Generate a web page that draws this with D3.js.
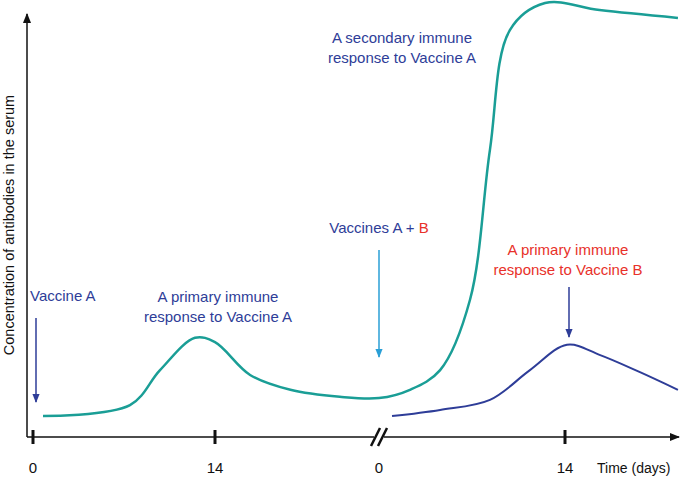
<!DOCTYPE html><html><head><meta charset="utf-8">
<script src="https://cdn.jsdelivr.net/npm/d3@7"></script>
<style>body{margin:0;background:#fff}text{font-family:"Liberation Sans",Arial,sans-serif}</style>
</head><body><svg id="c" width="685" height="480"></svg>
<script>
// segment 1 = first vaccination, segment 2 = after second vaccination
const tickLabels = ["0","14","0","14"];
const tealSeg = [1,1,1,1,1,1,1,1,2,2,2,2,2,2,2,2,2];
const tealDay = [0.77,7.46,9.77,12.46,14,16.7,19.8,23.6,0,2.33,4.6,6.85,8.35,9.85,12.5,16.6,22.5];
const tealVal = [4.8,7.3,15.3,22.7,21.7,14.2,10.8,9.2,8.9,10.8,15.3,31.4,65.7,93.1,99.3,97.7,95.9];
const blueDay = [0.98,4.6,8.35,11.36,14.15,16.6,19.6,22.5];
const blueVal = [4.8,6.2,8.5,15.3,21.1,18.8,14.9,10.8];

const svg = d3.select("#c");
const x1 = d3.scaleLinear().domain([0,14]).range([33,215]);
const x2 = d3.scaleLinear().domain([0,14]).range([379,565]);
const y = d3.scaleLinear().domain([0,100]).range([437,0]);
const BLUE="#2e3d98", TEAL="#1a9e96", RED="#e8312a", LB="#2a9fd6";

svg.append("defs").html(`<marker id="ah" viewBox="0 0 10 10" refX="9" refY="5" markerWidth="7" markerHeight="7" orient="auto"><path d="M0,1L10,5L0,9z" fill="#111"/></marker>
<marker id="ab" viewBox="0 0 10 10" refX="9" refY="5" markerWidth="6" markerHeight="6" orient="auto"><path d="M0,1L10,5L0,9z" fill="${BLUE}"/></marker>
<marker id="al" viewBox="0 0 10 10" refX="9" refY="5" markerWidth="6" markerHeight="6" orient="auto"><path d="M0,1L10,5L0,9z" fill="${LB}"/></marker>`);

svg.append("line").attr("x1",27).attr("y1",437).attr("x2",27).attr("y2",14).attr("stroke","#111").attr("stroke-width",1.5).attr("marker-end","url(#ah)");
svg.append("line").attr("x1",27).attr("y1",437).attr("x2",679).attr("y2",437).attr("stroke","#111").attr("stroke-width",1.5).attr("marker-end","url(#ah)");
const tickX=[x1(0),x1(14),x2(0),x2(14)];
tickX.forEach((tx,i)=>{
  if(i!==2) svg.append("line").attr("x1",tx).attr("x2",tx).attr("y1",430).attr("y2",444).attr("stroke","#111").attr("stroke-width",3);
  svg.append("text").attr("x",tx).attr("y",473).attr("text-anchor","middle").attr("font-size",15).attr("fill","#111").text(tickLabels[i]);
});
svg.append("rect").attr("x",374).attr("y",430).attr("width",10).attr("height",14).attr("fill","#fff");
[[371,383],[378,390]].forEach(([a,b])=>svg.append("line").attr("x1",a).attr("y1",446).attr("x2",b-3).attr("y2",428).attr("stroke","#111").attr("stroke-width",2.5));
svg.append("text").attr("x",597).attr("y",473).attr("font-size",14).attr("fill","#111").text("Time (days)");
svg.append("text").attr("transform","translate(14,225) rotate(-90)").attr("text-anchor","middle").attr("font-size",14.5).attr("fill","#111").text("Concentration of antibodies in the serum");

const line=d3.line().curve(d3.curveCatmullRom.alpha(0.5));
const tealPts=tealDay.map((d,i)=>[(tealSeg[i]===1?x1:x2)(d),y(tealVal[i])]);
svg.append("path").attr("d",line(tealPts)).attr("fill","none").attr("stroke",TEAL).attr("stroke-width",2.5);
const bluePts=blueDay.map((d,i)=>[x2(d),y(blueVal[i])]);
svg.append("path").attr("d",line(bluePts)).attr("fill","none").attr("stroke",BLUE).attr("stroke-width",2);

function txt(x,yy,s,c,anchor){return svg.append("text").attr("x",x).attr("y",yy).attr("font-size",15).attr("fill",c).attr("text-anchor",anchor||"middle").text(s);}
txt(30,301,"Vaccine A",BLUE,"start");
svg.append("line").attr("x1",36).attr("y1",318).attr("x2",36).attr("y2",402).attr("stroke",BLUE).attr("stroke-width",1.5).attr("marker-end","url(#ab)");
txt(218,302,"A primary immune",BLUE); txt(218,322,"response to Vaccine A",BLUE);
const t=svg.append("text").attr("x",379).attr("y",233).attr("font-size",15).attr("text-anchor","middle");
t.append("tspan").attr("fill",BLUE).text("Vaccines A + ");t.append("tspan").attr("fill",RED).text("B");
svg.append("line").attr("x1",379).attr("y1",250).attr("x2",379).attr("y2",357).attr("stroke",LB).attr("stroke-width",1.5).attr("marker-end","url(#al)");
txt(402,43,"A secondary immune",BLUE); txt(402,63,"response to Vaccine A",BLUE);
txt(568,255,"A primary immune",RED); txt(568,275,"response to Vaccine B",RED);
svg.append("line").attr("x1",569).attr("y1",287).attr("x2",569).attr("y2",337).attr("stroke",BLUE).attr("stroke-width",1.5).attr("marker-end","url(#ab)");
</script></body></html>
